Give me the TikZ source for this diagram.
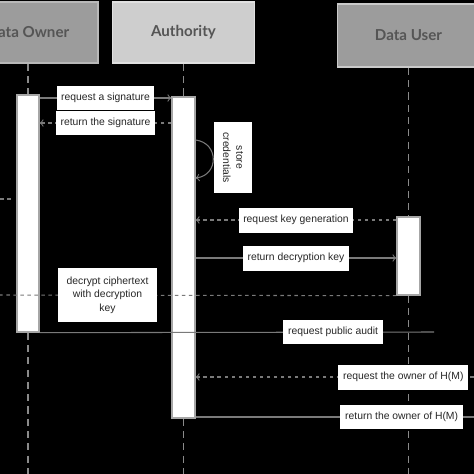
\documentclass[tikz,border=0pt]{standalone}
\usepackage{fontspec}
\setmainfont{Liberation Sans}
\newfontfamily\headfont{Lato}
\usetikzlibrary{arrows, calc, positioning}
\definecolor{ownerfill}{HTML}{9C9C9C}
\definecolor{ownerline}{HTML}{B8B8B8}
\definecolor{authfill}{HTML}{CECECE}
\definecolor{authline}{HTML}{E0E0E0}
\definecolor{userline}{HTML}{CACACA}
\definecolor{headtext}{HTML}{555555}
\definecolor{msgline}{HTML}{7A7A7A}
\definecolor{lifeline}{HTML}{8A8A8A}

\begin{document}
\begin{tikzpicture}[x=0.02cm, y=-0.02cm,
    actor/.style={line width=1pt, minimum width=2.84cm, minimum height=1.22cm, inner sep=0pt,
        font=\headfont\bfseries\fontsize{8.6}{10}\selectfont, text=headtext},
    bar/.style={draw=gray!70, fill=white, line width=0.8pt, inner sep=0pt},
    life/.style={draw=lifeline, line width=1.1pt, dash pattern=on 4pt off 3pt},
    msg/.style={draw=msgline, line width=0.6pt},
    dmsg/.style={msg, dash pattern=on 2pt off 2pt},
    lbl/.style={fill=white, inner sep=0pt, minimum height=0.48cm, text=black!85,
        font=\fontsize{5.9}{7.6}\selectfont}]

    % background and page size
    \fill[black] (0,0) rectangle (474,474);
    \useasboundingbox (0,0) rectangle (474,474);

    % participants
    \node[actor, fill=ownerfill, draw=ownerline, minimum width=2.8cm] (owner) at (28,32.5) {Data Owner};
    \node[actor, fill=authfill, draw=authline] (auth) at (183.5,32.5) {Authority};
    \node[actor, fill=ownerfill, draw=userline, minimum height=1.26cm] (user) at (408.5,35.5) {Data User};

    % lifeline ends
    \coordinate (ownend) at (28,474);
    \coordinate (authend) at (183.5,474);
    \coordinate (userend) at (408.5,474);

    % activation bars
    \node[bar, minimum width=0.44cm, minimum height=4.74cm] (ownbar) at (28,213.5) {};
    \node[bar, minimum width=0.46cm, minimum height=6.42cm] (authbar) at (183.5,257.5) {};
    \node[bar, minimum width=0.46cm, minimum height=1.56cm] (userbar) at (408.5,256) {};

    % lifelines
    \draw[life] (owner.south) -- (ownbar.north) (ownbar.south) -- (ownend);
    \draw[life] (auth.south) -- (authbar.north) (authbar.south) -- (authend);
    \draw[life] (user.south) -- (userbar.north) (userbar.south) -- (userend);

    % signature
    \draw[msg, ->] (ownbar.east |- 0,98) -- node[lbl, minimum width=1.96cm] (sig1) {request a signature} (authbar.west |- 0,98);
    \draw[dmsg, ->] (authbar.west |- 0,123) -- node[lbl, minimum width=2cm] (sig2) {return the signature} (ownbar.east |- 0,123);

    % self call
    \draw[msg, ->] (authbar.east |- 0,140) .. controls (219,143) and (219,175) .. (authbar.east |- 0,178);
    \node[lbl, rotate=-90, align=center, minimum width=1.42cm, minimum height=0.76cm] (store) at (233,157.5) {store\\credentials};

    % stub from the left
    \coordinate (lftA) at (0,199);
    \coordinate (lftB) at (12,199);
    \draw[dmsg] (lftA) -- (lftB);

    % key generation
    \draw[dmsg, ->] (userbar.west |- 0,220) -- node[lbl, minimum width=2.28cm, minimum height=0.5cm] (keygen) {request key generation} (authbar.east |- 0,220);
    \draw[msg, ->] (authbar.east |- 0,258) -- node[lbl, minimum width=2.12cm, minimum height=0.5cm] (retkey) {return decryption key} (userbar.west |- 0,258);

    % decryption
    \coordinate (lftC) at (0,295);
    \draw[dmsg] (userbar.south west) -- (lftC);
    \node[lbl, align=center, minimum width=1.98cm, minimum height=1.08cm] (decrypt) at (107.5,295) {decrypt ciphertext\\with decryption\\key};

    % audit
    \coordinate (audend) at (434,332);
    \draw[msg] (ownbar.south east) -- node[lbl, pos=.744, minimum width=2cm] (audit) {request public audit} (audend);

    \coordinate (rgtA) at (474,377);
    \coordinate (rgtB) at (474,417);
    \draw[dmsg, ->] (rgtA) -- node[lbl, pos=.254, minimum width=2.6cm, minimum height=0.5cm] (reqown) {request the owner of H(M)} (authbar.east |- 0,377);
    \draw[msg] (authbar.east |- 0,417) -- node[lbl, pos=.74, minimum width=2.46cm] (retown) {return the owner of H(M)} (rgtB);
\end{tikzpicture}
\end{document}
